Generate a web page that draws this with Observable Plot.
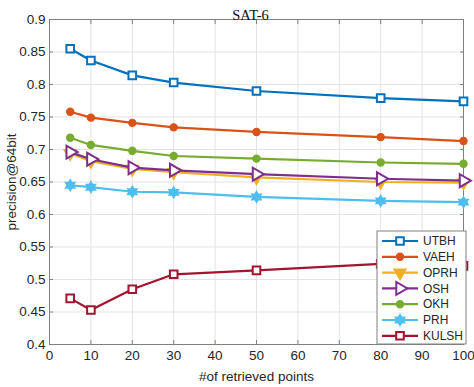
<!DOCTYPE html>
<html>
<head>
<meta charset="utf-8">
<script src="https://cdn.jsdelivr.net/npm/d3@7"></script>
<script src="https://cdn.jsdelivr.net/npm/@observablehq/plot@0.6"></script>
<style>
  html, body { margin: 0; padding: 0; background: #fff; }
</style>
</head>
<body>
<div id="chart"></div>
<script>
const title = "SAT-6";
const xLabel = "#of retrieved points";
const yLabel = "precision@64bit";
const xs = [5, 10, 20, 30, 50, 80, 100];
const xTicks = [0, 10, 20, 30, 40, 50, 60, 70, 80, 90, 100];
const yTicks = [0.4, 0.45, 0.5, 0.55, 0.6, 0.65, 0.7, 0.75, 0.8, 0.85, 0.9];
const seriesNames = ["UTBH", "VAEH", "OPRH", "OSH", "OKH", "PRH", "KULSH"];
const utbh  = [0.855, 0.837, 0.814, 0.803, 0.790, 0.779, 0.774];
const vaeh  = [0.758, 0.749, 0.741, 0.734, 0.727, 0.719, 0.713];
const oprh  = [0.694, 0.682, 0.670, 0.665, 0.657, 0.650, 0.649];
const osh   = [0.696, 0.685, 0.672, 0.668, 0.662, 0.655, 0.652];
const okh   = [0.718, 0.707, 0.698, 0.690, 0.686, 0.680, 0.678];
const prh   = [0.645, 0.642, 0.635, 0.634, 0.627, 0.621, 0.619];
const kulsh = [0.471, 0.453, 0.485, 0.508, 0.514, 0.524, 0.521];
const seriesValues = [utbh, vaeh, oprh, osh, okh, prh, kulsh];
const colors = ["#0072BD", "#D95319", "#EDB120", "#7E2F8E", "#77AC30", "#4DBEEE", "#A2142F"];

// hexagram symbol
const hexagram = {
  draw(context, size) {
    const R = Math.sqrt(size / Math.PI) * 1.35;
    const r = R / Math.sqrt(3);
    for (let k = 0; k < 12; k++) {
      const a = -Math.PI / 2 + k * Math.PI / 6;
      const rad = k % 2 === 0 ? R : r;
      const px = rad * Math.cos(a), py = rad * Math.sin(a);
      if (k === 0) context.moveTo(px, py); else context.lineTo(px, py);
    }
    context.closePath();
  }
};

const styles = [
  {symbol: "square", r: 4.3, fill: "white", rotate: 0},
  {symbol: "circle", r: 3.6, fill: "color", rotate: 0},
  {symbol: "triangle", r: 4.6, fill: "color", rotate: 180},
  {symbol: "triangle", r: 4.8, fill: "white", rotate: 90},
  {symbol: "circle", r: 3.6, fill: "color", rotate: 0},
  {symbol: hexagram, r: 4.2, fill: "color", rotate: 0},
  {symbol: "square", r: 4.3, fill: "white", rotate: 0}
];

const rows = [];
seriesNames.forEach((name, i) => {
  xs.forEach((x, j) => rows.push({series: name, idx: i, x, y: seriesValues[i][j]}));
});

const fmt = d => String(+d.toFixed(2));
const blank = () => "";

const marks = [
  Plot.gridX(xTicks, {stroke: "#e3e3e3", strokeOpacity: 1}),
  Plot.gridY(yTicks, {stroke: "#e3e3e3", strokeOpacity: 1}),
  Plot.frame({stroke: "#808080"}),
  Plot.axisX(xTicks, {anchor: "bottom", tickSize: -4, tickPadding: 10, stroke: "#808080", fill: "#262626", fontSize: 13.5, label: xLabel, labelAnchor: "center", labelArrow: "none", labelOffset: 36}),
  Plot.axisX(xTicks, {anchor: "top", tickSize: -4, tickFormat: blank, stroke: "#808080", label: null}),
  Plot.axisY(yTicks, {anchor: "left", tickSize: -4, tickPadding: 8, tickFormat: fmt, stroke: "#808080", fill: "#262626", fontSize: 13.5, label: yLabel, labelAnchor: "center", labelArrow: "none", labelOffset: 43}),
  Plot.axisY(yTicks, {anchor: "right", tickSize: -4, tickFormat: blank, stroke: "#808080", label: null}),
  Plot.text([title], {frameAnchor: "top", dx: -6, dy: -10, fontFamily: "Liberation Serif, Times New Roman, serif", fontSize: 14.5, fill: "#111"})
];

seriesNames.forEach((name, i) => {
  const data = rows.filter(d => d.idx === i);
  const st = styles[i];
  marks.push(Plot.line(data, {x: "x", y: "y", stroke: colors[i], strokeWidth: 2.2}));
  marks.push(Plot.dot(data, {
    x: "x", y: "y", symbol: () => st.symbol, r: st.r,
    fill: st.fill === "white" ? "white" : colors[i],
    stroke: colors[i], strokeWidth: st.fill === "white" ? 2 : 1.2,
    rotate: st.rotate
  }));
});

const chart = Plot.plot({
  width: 474,
  height: 387,
  marginLeft: 49,
  marginRight: 11,
  marginTop: 19,
  marginBottom: 43,
  style: {fontFamily: "Liberation Sans, Arial, sans-serif", fontSize: "13.5px", color: "#262626", background: "white"},
  x: {domain: [0, 100]},
  y: {domain: [0.4, 0.9]},
  symbol: {type: "identity"},
  marks
});

// legend
const svg = d3.select(chart);
const lg = svg.append("g").attr("class", "legend").attr("text-anchor", "start");
const lx = 377, ly = 231, lw = 89, lh = 113;
lg.append("rect").attr("x", lx).attr("y", ly).attr("width", lw).attr("height", lh)
  .attr("fill", "white").attr("stroke", "#808080").attr("stroke-width", 1);
seriesNames.forEach((name, i) => {
  const cy = ly + 10 + i * 15.8;
  const st = styles[i];
  lg.append("line").attr("x1", lx + 5).attr("x2", lx + 41).attr("y1", cy).attr("y2", cy)
    .attr("stroke", colors[i]).attr("stroke-width", 2.2);
  const sym = typeof st.symbol === "string"
    ? d3.symbol(st.symbol === "square" ? d3.symbolSquare : st.symbol === "circle" ? d3.symbolCircle : d3.symbolTriangle, Math.PI * st.r * st.r)
    : d3.symbol(st.symbol, Math.PI * st.r * st.r);
  lg.append("path").attr("d", sym())
    .attr("transform", `translate(${lx + 23},${cy}) rotate(${st.rotate})`)
    .attr("fill", st.fill === "white" ? "white" : colors[i])
    .attr("stroke", colors[i]).attr("stroke-width", st.fill === "white" ? 2 : 1.2);
  lg.append("text").attr("x", lx + 46).attr("y", cy).attr("dy", "0.35em")
    .attr("text-anchor", "start")
    .style("font-size", "12px").attr("fill", "#262626").text(name);
});

document.getElementById("chart").appendChild(chart);
</script>
</body>
</html>
